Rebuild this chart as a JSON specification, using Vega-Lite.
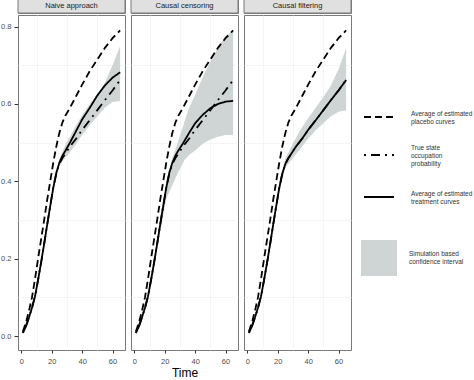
{
"$schema":"https://vega.github.io/schema/vega-lite/v6.json",
"background":"white",
"padding":{"left":0,"top":-2,"right":0,"bottom":0},
"datasets":{
"strips":[{"p":"N","label":"Naive approach"},{"p":"C","label":"Causal censoring"},{"p":"F","label":"Causal filtering"}],
"lines":[
{"p":"N","s":"placebo","t":1,"v":0.012},{"p":"N","s":"placebo","t":3,"v":0.035},{"p":"N","s":"placebo","t":5,"v":0.065},{"p":"N","s":"placebo","t":7,"v":0.10},{"p":"N","s":"placebo","t":9,"v":0.148},{"p":"N","s":"placebo","t":11,"v":0.20},{"p":"N","s":"placebo","t":13,"v":0.25},{"p":"N","s":"placebo","t":15,"v":0.30},{"p":"N","s":"placebo","t":17,"v":0.352},{"p":"N","s":"placebo","t":19,"v":0.40},{"p":"N","s":"placebo","t":21,"v":0.448},{"p":"N","s":"placebo","t":23,"v":0.49},{"p":"N","s":"placebo","t":25,"v":0.525},{"p":"N","s":"placebo","t":27,"v":0.552},{"p":"N","s":"placebo","t":29,"v":0.57},{"p":"N","s":"placebo","t":32,"v":0.59},{"p":"N","s":"placebo","t":36,"v":0.62},{"p":"N","s":"placebo","t":40,"v":0.65},{"p":"N","s":"placebo","t":45,"v":0.685},{"p":"N","s":"placebo","t":50,"v":0.715},{"p":"N","s":"placebo","t":55,"v":0.745},{"p":"N","s":"placebo","t":60,"v":0.77},{"p":"N","s":"placebo","t":65,"v":0.79},
{"p":"N","s":"true","t":1,"v":0.008},{"p":"N","s":"true","t":3,"v":0.025},{"p":"N","s":"true","t":5,"v":0.048},{"p":"N","s":"true","t":7,"v":0.073},{"p":"N","s":"true","t":9,"v":0.103},{"p":"N","s":"true","t":11,"v":0.145},{"p":"N","s":"true","t":13,"v":0.19},{"p":"N","s":"true","t":15,"v":0.238},{"p":"N","s":"true","t":17,"v":0.288},{"p":"N","s":"true","t":19,"v":0.336},{"p":"N","s":"true","t":21,"v":0.383},{"p":"N","s":"true","t":23,"v":0.42},{"p":"N","s":"true","t":25,"v":0.445},{"p":"N","s":"true","t":27,"v":0.46},{"p":"N","s":"true","t":29,"v":0.472},{"p":"N","s":"true","t":32,"v":0.49},{"p":"N","s":"true","t":36,"v":0.51},{"p":"N","s":"true","t":40,"v":0.533},{"p":"N","s":"true","t":45,"v":0.558},{"p":"N","s":"true","t":50,"v":0.584},{"p":"N","s":"true","t":55,"v":0.61},{"p":"N","s":"true","t":60,"v":0.635},{"p":"N","s":"true","t":65,"v":0.662},
{"p":"N","s":"treatment","t":1,"v":0.008},{"p":"N","s":"treatment","t":3,"v":0.025},{"p":"N","s":"treatment","t":5,"v":0.048},{"p":"N","s":"treatment","t":7,"v":0.073},{"p":"N","s":"treatment","t":9,"v":0.103},{"p":"N","s":"treatment","t":11,"v":0.145},{"p":"N","s":"treatment","t":13,"v":0.19},{"p":"N","s":"treatment","t":15,"v":0.238},{"p":"N","s":"treatment","t":17,"v":0.288},{"p":"N","s":"treatment","t":19,"v":0.336},{"p":"N","s":"treatment","t":21,"v":0.383},{"p":"N","s":"treatment","t":23,"v":0.422},{"p":"N","s":"treatment","t":25,"v":0.448},{"p":"N","s":"treatment","t":27,"v":0.466},{"p":"N","s":"treatment","t":29,"v":0.479},{"p":"N","s":"treatment","t":32,"v":0.50},{"p":"N","s":"treatment","t":36,"v":0.53},{"p":"N","s":"treatment","t":40,"v":0.56},{"p":"N","s":"treatment","t":45,"v":0.59},{"p":"N","s":"treatment","t":50,"v":0.622},{"p":"N","s":"treatment","t":55,"v":0.648},{"p":"N","s":"treatment","t":60,"v":0.668},{"p":"N","s":"treatment","t":65,"v":0.682},
{"p":"C","s":"placebo","t":1,"v":0.012},{"p":"C","s":"placebo","t":3,"v":0.035},{"p":"C","s":"placebo","t":5,"v":0.065},{"p":"C","s":"placebo","t":7,"v":0.10},{"p":"C","s":"placebo","t":9,"v":0.148},{"p":"C","s":"placebo","t":11,"v":0.20},{"p":"C","s":"placebo","t":13,"v":0.25},{"p":"C","s":"placebo","t":15,"v":0.30},{"p":"C","s":"placebo","t":17,"v":0.352},{"p":"C","s":"placebo","t":19,"v":0.40},{"p":"C","s":"placebo","t":21,"v":0.448},{"p":"C","s":"placebo","t":23,"v":0.49},{"p":"C","s":"placebo","t":25,"v":0.525},{"p":"C","s":"placebo","t":27,"v":0.552},{"p":"C","s":"placebo","t":29,"v":0.57},{"p":"C","s":"placebo","t":32,"v":0.59},{"p":"C","s":"placebo","t":36,"v":0.62},{"p":"C","s":"placebo","t":40,"v":0.65},{"p":"C","s":"placebo","t":45,"v":0.685},{"p":"C","s":"placebo","t":50,"v":0.715},{"p":"C","s":"placebo","t":55,"v":0.745},{"p":"C","s":"placebo","t":60,"v":0.77},{"p":"C","s":"placebo","t":65,"v":0.79},
{"p":"C","s":"true","t":1,"v":0.008},{"p":"C","s":"true","t":3,"v":0.025},{"p":"C","s":"true","t":5,"v":0.048},{"p":"C","s":"true","t":7,"v":0.073},{"p":"C","s":"true","t":9,"v":0.103},{"p":"C","s":"true","t":11,"v":0.145},{"p":"C","s":"true","t":13,"v":0.19},{"p":"C","s":"true","t":15,"v":0.238},{"p":"C","s":"true","t":17,"v":0.288},{"p":"C","s":"true","t":19,"v":0.336},{"p":"C","s":"true","t":21,"v":0.383},{"p":"C","s":"true","t":23,"v":0.42},{"p":"C","s":"true","t":25,"v":0.445},{"p":"C","s":"true","t":27,"v":0.46},{"p":"C","s":"true","t":29,"v":0.472},{"p":"C","s":"true","t":32,"v":0.49},{"p":"C","s":"true","t":36,"v":0.51},{"p":"C","s":"true","t":40,"v":0.533},{"p":"C","s":"true","t":45,"v":0.558},{"p":"C","s":"true","t":50,"v":0.584},{"p":"C","s":"true","t":55,"v":0.61},{"p":"C","s":"true","t":60,"v":0.635},{"p":"C","s":"true","t":65,"v":0.662},
{"p":"C","s":"treatment","t":1,"v":0.008},{"p":"C","s":"treatment","t":3,"v":0.025},{"p":"C","s":"treatment","t":5,"v":0.048},{"p":"C","s":"treatment","t":7,"v":0.073},{"p":"C","s":"treatment","t":9,"v":0.103},{"p":"C","s":"treatment","t":11,"v":0.145},{"p":"C","s":"treatment","t":13,"v":0.19},{"p":"C","s":"treatment","t":15,"v":0.238},{"p":"C","s":"treatment","t":17,"v":0.288},{"p":"C","s":"treatment","t":19,"v":0.336},{"p":"C","s":"treatment","t":21,"v":0.383},{"p":"C","s":"treatment","t":23,"v":0.422},{"p":"C","s":"treatment","t":25,"v":0.448},{"p":"C","s":"treatment","t":27,"v":0.466},{"p":"C","s":"treatment","t":29,"v":0.48},{"p":"C","s":"treatment","t":32,"v":0.498},{"p":"C","s":"treatment","t":36,"v":0.525},{"p":"C","s":"treatment","t":40,"v":0.55},{"p":"C","s":"treatment","t":45,"v":0.572},{"p":"C","s":"treatment","t":50,"v":0.589},{"p":"C","s":"treatment","t":55,"v":0.60},{"p":"C","s":"treatment","t":60,"v":0.606},{"p":"C","s":"treatment","t":65,"v":0.608},
{"p":"F","s":"placebo","t":1,"v":0.012},{"p":"F","s":"placebo","t":3,"v":0.035},{"p":"F","s":"placebo","t":5,"v":0.065},{"p":"F","s":"placebo","t":7,"v":0.10},{"p":"F","s":"placebo","t":9,"v":0.148},{"p":"F","s":"placebo","t":11,"v":0.20},{"p":"F","s":"placebo","t":13,"v":0.25},{"p":"F","s":"placebo","t":15,"v":0.30},{"p":"F","s":"placebo","t":17,"v":0.352},{"p":"F","s":"placebo","t":19,"v":0.40},{"p":"F","s":"placebo","t":21,"v":0.448},{"p":"F","s":"placebo","t":23,"v":0.49},{"p":"F","s":"placebo","t":25,"v":0.525},{"p":"F","s":"placebo","t":27,"v":0.552},{"p":"F","s":"placebo","t":29,"v":0.57},{"p":"F","s":"placebo","t":32,"v":0.59},{"p":"F","s":"placebo","t":36,"v":0.62},{"p":"F","s":"placebo","t":40,"v":0.65},{"p":"F","s":"placebo","t":45,"v":0.685},{"p":"F","s":"placebo","t":50,"v":0.715},{"p":"F","s":"placebo","t":55,"v":0.745},{"p":"F","s":"placebo","t":60,"v":0.77},{"p":"F","s":"placebo","t":65,"v":0.79},
{"p":"F","s":"true","t":1,"v":0.008},{"p":"F","s":"true","t":3,"v":0.025},{"p":"F","s":"true","t":5,"v":0.048},{"p":"F","s":"true","t":7,"v":0.073},{"p":"F","s":"true","t":9,"v":0.103},{"p":"F","s":"true","t":11,"v":0.145},{"p":"F","s":"true","t":13,"v":0.19},{"p":"F","s":"true","t":15,"v":0.238},{"p":"F","s":"true","t":17,"v":0.288},{"p":"F","s":"true","t":19,"v":0.336},{"p":"F","s":"true","t":21,"v":0.383},{"p":"F","s":"true","t":23,"v":0.42},{"p":"F","s":"true","t":25,"v":0.445},{"p":"F","s":"true","t":27,"v":0.46},{"p":"F","s":"true","t":29,"v":0.472},{"p":"F","s":"true","t":32,"v":0.49},{"p":"F","s":"true","t":36,"v":0.51},{"p":"F","s":"true","t":40,"v":0.533},{"p":"F","s":"true","t":45,"v":0.558},{"p":"F","s":"true","t":50,"v":0.584},{"p":"F","s":"true","t":55,"v":0.61},{"p":"F","s":"true","t":60,"v":0.635},{"p":"F","s":"true","t":65,"v":0.662},
{"p":"F","s":"treatment","t":1,"v":0.008},{"p":"F","s":"treatment","t":3,"v":0.025},{"p":"F","s":"treatment","t":5,"v":0.048},{"p":"F","s":"treatment","t":7,"v":0.073},{"p":"F","s":"treatment","t":9,"v":0.103},{"p":"F","s":"treatment","t":11,"v":0.145},{"p":"F","s":"treatment","t":13,"v":0.19},{"p":"F","s":"treatment","t":15,"v":0.238},{"p":"F","s":"treatment","t":17,"v":0.288},{"p":"F","s":"treatment","t":19,"v":0.336},{"p":"F","s":"treatment","t":21,"v":0.383},{"p":"F","s":"treatment","t":23,"v":0.42},{"p":"F","s":"treatment","t":25,"v":0.445},{"p":"F","s":"treatment","t":27,"v":0.46},{"p":"F","s":"treatment","t":29,"v":0.472},{"p":"F","s":"treatment","t":32,"v":0.49},{"p":"F","s":"treatment","t":36,"v":0.51},{"p":"F","s":"treatment","t":40,"v":0.533},{"p":"F","s":"treatment","t":45,"v":0.558},{"p":"F","s":"treatment","t":50,"v":0.584},{"p":"F","s":"treatment","t":55,"v":0.61},{"p":"F","s":"treatment","t":60,"v":0.635},{"p":"F","s":"treatment","t":65,"v":0.662}
],
"bands":[
{"p":"N","t":1,"lo":0.005,"hi":0.012},{"p":"N","t":5,"lo":0.045,"hi":0.055},{"p":"N","t":9,"lo":0.098,"hi":0.11},{"p":"N","t":13,"lo":0.183,"hi":0.198},{"p":"N","t":17,"lo":0.28,"hi":0.296},{"p":"N","t":21,"lo":0.373,"hi":0.392},{"p":"N","t":25,"lo":0.44,"hi":0.458},{"p":"N","t":29,"lo":0.462,"hi":0.495},{"p":"N","t":32,"lo":0.475,"hi":0.515},{"p":"N","t":36,"lo":0.497,"hi":0.545},{"p":"N","t":40,"lo":0.52,"hi":0.571},{"p":"N","t":45,"lo":0.545,"hi":0.60},{"p":"N","t":50,"lo":0.568,"hi":0.624},{"p":"N","t":55,"lo":0.59,"hi":0.655},{"p":"N","t":60,"lo":0.605,"hi":0.70},{"p":"N","t":65,"lo":0.608,"hi":0.75},
{"p":"C","t":1,"lo":0.004,"hi":0.012},{"p":"C","t":5,"lo":0.043,"hi":0.055},{"p":"C","t":9,"lo":0.095,"hi":0.112},{"p":"C","t":13,"lo":0.178,"hi":0.2},{"p":"C","t":17,"lo":0.27,"hi":0.305},{"p":"C","t":21,"lo":0.355,"hi":0.40},{"p":"C","t":25,"lo":0.39,"hi":0.46},{"p":"C","t":29,"lo":0.425,"hi":0.505},{"p":"C","t":33,"lo":0.455,"hi":0.555},{"p":"C","t":36,"lo":0.468,"hi":0.59},{"p":"C","t":40,"lo":0.48,"hi":0.623},{"p":"C","t":45,"lo":0.497,"hi":0.67},{"p":"C","t":50,"lo":0.508,"hi":0.71},{"p":"C","t":55,"lo":0.515,"hi":0.745},{"p":"C","t":60,"lo":0.52,"hi":0.775},{"p":"C","t":65,"lo":0.52,"hi":0.79},
{"p":"F","t":1,"lo":0.005,"hi":0.012},{"p":"F","t":5,"lo":0.045,"hi":0.055},{"p":"F","t":9,"lo":0.098,"hi":0.11},{"p":"F","t":13,"lo":0.183,"hi":0.198},{"p":"F","t":17,"lo":0.28,"hi":0.296},{"p":"F","t":21,"lo":0.373,"hi":0.392},{"p":"F","t":25,"lo":0.435,"hi":0.46},{"p":"F","t":29,"lo":0.455,"hi":0.49},{"p":"F","t":33,"lo":0.475,"hi":0.52},{"p":"F","t":36,"lo":0.49,"hi":0.54},{"p":"F","t":40,"lo":0.51,"hi":0.563},{"p":"F","t":45,"lo":0.532,"hi":0.59},{"p":"F","t":50,"lo":0.55,"hi":0.618},{"p":"F","t":55,"lo":0.568,"hi":0.648},{"p":"F","t":60,"lo":0.58,"hi":0.69},{"p":"F","t":65,"lo":0.584,"hi":0.745}
]
},
"spacing":4,
"hconcat":[
{"spacing":0,"vconcat":[
 {"data":{"name":"strips"},"transform":[{"filter":"datum.p === 'N'"}],"width":107,"height":14,
  "layer":[
   {"mark":{"type":"rect","fill":"#e0e0e0","stroke":"#7a7a7a","strokeWidth":1},
    "encoding":{"x":{"field":"label","type":"nominal","axis":null,"scale":{"paddingInner":0,"paddingOuter":0}},"y":{"field":"label","type":"nominal","axis":null,"scale":{"paddingInner":0,"paddingOuter":0}}}},
   {"mark":{"type":"text","fontSize":7.5,"color":"#1a1a1a"},
    "encoding":{"x":{"field":"label","type":"nominal","axis":null},"y":{"field":"label","type":"nominal","axis":null},"text":{"field":"label"}}}
  ]},
 {"width":107,"height":335,
  "resolve":{"axis":{"x":"independent","y":"independent"}},
  "layer":[
   {"data":{"name":"bands"},"transform":[{"filter":"datum.p === 'N'"}],
    "mark":{"type":"area","opacity":1},
    "encoding":{
     "x":{"field":"t","type":"quantitative","scale":{"domain":[-2.2,68.2],"nice":false,"zero":false},
          "axis":{"orient":"bottom","values":[10,30,50],"labels":false,"ticks":false,"domain":false,"title":null,"gridColor":"#f2f2f2"}},
     "y":{"field":"lo","type":"quantitative","scale":{"domain":[-0.036,0.83],"nice":false,"zero":false},
          "axis":{"orient":"left","values":[0.1,0.3,0.5,0.7],"labels":false,"ticks":false,"domain":false,"title":null,"gridColor":"#f2f2f2"}},
     "y2":{"field":"hi"},
     "fill":{"datum":"ci","type":"nominal","scale":{"domain":["ci"],"range":["#cfd5d5"]},
             "legend":{"orient":"none","legendX":343,"legendY":241,"title":null,"symbolType":"square","symbolSize":1296,"symbolStrokeWidth":0,"symbolOpacity":1,"labelFontSize":6.5,"labelColor":"#333333","labelOffset":12,"labelLimit":0,"padding":0,"labelExpr":"['Simulation based','confidence interval']",
               "encode":{"labels":{"update":{"lineHeight":{"value":8},"dy":{"value":-4}}}}}}
    }},
   {"data":{"name":"lines"},"transform":[{"filter":"datum.p === 'N'"}],
    "mark":{"type":"line","color":"black","strokeWidth":1.8},
    "encoding":{
     "x":{"field":"t","type":"quantitative","axis":{"orient":"bottom","values":[0,20,40,60],"labelOverlap":false,"labelFlush":false,"title":null,"domain":false,"tickSize":3,"tickColor":"#333333","gridColor":"#e6e6e6","labelFontSize":7.5,"labelColor":"#4d4d4d","labelPadding":4}},
     "y":{"field":"v","type":"quantitative","axis":{"orient":"left","values":[0,0.2,0.4,0.6,0.8],"format":".1f","labelOverlap":false,"title":null,"domain":false,"tickSize":4,"tickColor":"#333333","gridColor":"#e6e6e6","labelFontSize":7.5,"labelColor":"#4d4d4d","labelPadding":3}},
     "strokeDash":{"field":"s","type":"nominal","scale":{"domain":["placebo","true","treatment"],"range":[[7,4],[2,5,9,5],[1,0]]},
       "legend":{"orient":"none","legendX":345,"legendY":102,"title":null,"symbolType":"stroke","symbolSize":900,"symbolStrokeWidth":1.8,"symbolStrokeColor":"black","labelFontSize":6.5,"labelColor":"#333333","labelOffset":16,"labelLimit":0,"rowPadding":13,"padding":0,
         "labelExpr":"datum.label === 'placebo' ? ['Average of estimated','placebo curves'] : datum.label === 'true' ? ['True state','occupation','probability'] : ['Average of estimated','treatment curves']",
         "encode":{"labels":{"update":{"lineHeight":{"value":8},"dy":{"signal":"datum.value === 'true' ? -7 : -3"}}}}}}
    }}
  ]}
]},
{"spacing":0,"vconcat":[
 {"data":{"name":"strips"},"transform":[{"filter":"datum.p === 'C'"}],"width":107,"height":14,
  "layer":[
   {"mark":{"type":"rect","fill":"#e0e0e0","stroke":"#7a7a7a","strokeWidth":1},
    "encoding":{"x":{"field":"label","type":"nominal","axis":null,"scale":{"paddingInner":0,"paddingOuter":0}},"y":{"field":"label","type":"nominal","axis":null,"scale":{"paddingInner":0,"paddingOuter":0}}}},
   {"mark":{"type":"text","fontSize":7.5,"color":"#1a1a1a"},
    "encoding":{"x":{"field":"label","type":"nominal","axis":null},"y":{"field":"label","type":"nominal","axis":null},"text":{"field":"label"}}}
  ]},
 {"width":107,"height":335,
  "resolve":{"axis":{"x":"independent","y":"independent"}},
  "layer":[
   {"data":{"name":"bands"},"transform":[{"filter":"datum.p === 'C'"}],
    "mark":{"type":"area","opacity":1},
    "encoding":{
     "x":{"field":"t","type":"quantitative","scale":{"domain":[-2.2,68.2],"nice":false,"zero":false},
          "axis":{"orient":"bottom","values":[10,30,50],"labels":false,"ticks":false,"domain":false,"title":null,"gridColor":"#f2f2f2"}},
     "y":{"field":"lo","type":"quantitative","scale":{"domain":[-0.036,0.83],"nice":false,"zero":false},
          "axis":{"orient":"left","values":[0.1,0.3,0.5,0.7],"labels":false,"ticks":false,"domain":false,"title":null,"gridColor":"#f2f2f2"}},
     "y2":{"field":"hi"},
     "fill":{"datum":"ci","type":"nominal","scale":{"domain":["ci"],"range":["#cfd5d5"]}}
    }},
   {"data":{"name":"lines"},"transform":[{"filter":"datum.p === 'C'"}],
    "mark":{"type":"line","color":"black","strokeWidth":1.8},
    "encoding":{
     "x":{"field":"t","type":"quantitative","axis":{"orient":"bottom","values":[0,20,40,60],"labelOverlap":false,"labelFlush":false,"title":"Time","titleFontSize":12,"titleFontWeight":"normal","titleColor":"#000000","titlePadding":3,"domain":false,"tickSize":3,"tickColor":"#333333","gridColor":"#e6e6e6","labelFontSize":7.5,"labelColor":"#4d4d4d","labelPadding":4}},
     "y":{"field":"v","type":"quantitative","axis":{"orient":"left","values":[0,0.2,0.4,0.6,0.8],"labels":false,"ticks":false,"domain":false,"title":null,"gridColor":"#e6e6e6"}},
     "strokeDash":{"field":"s","type":"nominal","scale":{"domain":["placebo","true","treatment"],"range":[[7,4],[2,5,9,5],[1,0]]}}
    }}
  ]}
]},
{"spacing":0,"vconcat":[
 {"data":{"name":"strips"},"transform":[{"filter":"datum.p === 'F'"}],"width":107,"height":14,
  "layer":[
   {"mark":{"type":"rect","fill":"#e0e0e0","stroke":"#7a7a7a","strokeWidth":1},
    "encoding":{"x":{"field":"label","type":"nominal","axis":null,"scale":{"paddingInner":0,"paddingOuter":0}},"y":{"field":"label","type":"nominal","axis":null,"scale":{"paddingInner":0,"paddingOuter":0}}}},
   {"mark":{"type":"text","fontSize":7.5,"color":"#1a1a1a"},
    "encoding":{"x":{"field":"label","type":"nominal","axis":null},"y":{"field":"label","type":"nominal","axis":null},"text":{"field":"label"}}}
  ]},
 {"width":107,"height":335,
  "resolve":{"axis":{"x":"independent","y":"independent"}},
  "layer":[
   {"data":{"name":"bands"},"transform":[{"filter":"datum.p === 'F'"}],
    "mark":{"type":"area","opacity":1},
    "encoding":{
     "x":{"field":"t","type":"quantitative","scale":{"domain":[-2.2,68.2],"nice":false,"zero":false},
          "axis":{"orient":"bottom","values":[10,30,50],"labels":false,"ticks":false,"domain":false,"title":null,"gridColor":"#f2f2f2"}},
     "y":{"field":"lo","type":"quantitative","scale":{"domain":[-0.036,0.83],"nice":false,"zero":false},
          "axis":{"orient":"left","values":[0.1,0.3,0.5,0.7],"labels":false,"ticks":false,"domain":false,"title":null,"gridColor":"#f2f2f2"}},
     "y2":{"field":"hi"},
     "fill":{"datum":"ci","type":"nominal","scale":{"domain":["ci"],"range":["#cfd5d5"]}}
    }},
   {"data":{"name":"lines"},"transform":[{"filter":"datum.p === 'F'"}],
    "mark":{"type":"line","color":"black","strokeWidth":1.8},
    "encoding":{
     "x":{"field":"t","type":"quantitative","axis":{"orient":"bottom","values":[0,20,40,60],"labelOverlap":false,"labelFlush":false,"title":null,"domain":false,"tickSize":3,"tickColor":"#333333","gridColor":"#e6e6e6","labelFontSize":7.5,"labelColor":"#4d4d4d","labelPadding":4}},
     "y":{"field":"v","type":"quantitative","axis":{"orient":"left","values":[0,0.2,0.4,0.6,0.8],"labels":false,"ticks":false,"domain":false,"title":null,"gridColor":"#e6e6e6"}},
     "strokeDash":{"field":"s","type":"nominal","scale":{"domain":["placebo","true","treatment"],"range":[[7,4],[2,5,9,5],[1,0]]}}
    }}
  ]}
]}
],
"config":{"font":"Liberation Sans","view":{"stroke":"#7a7a7a","strokeWidth":1},"axis":{"gridWidth":0.8},"legend":{"padding":0}}
}
